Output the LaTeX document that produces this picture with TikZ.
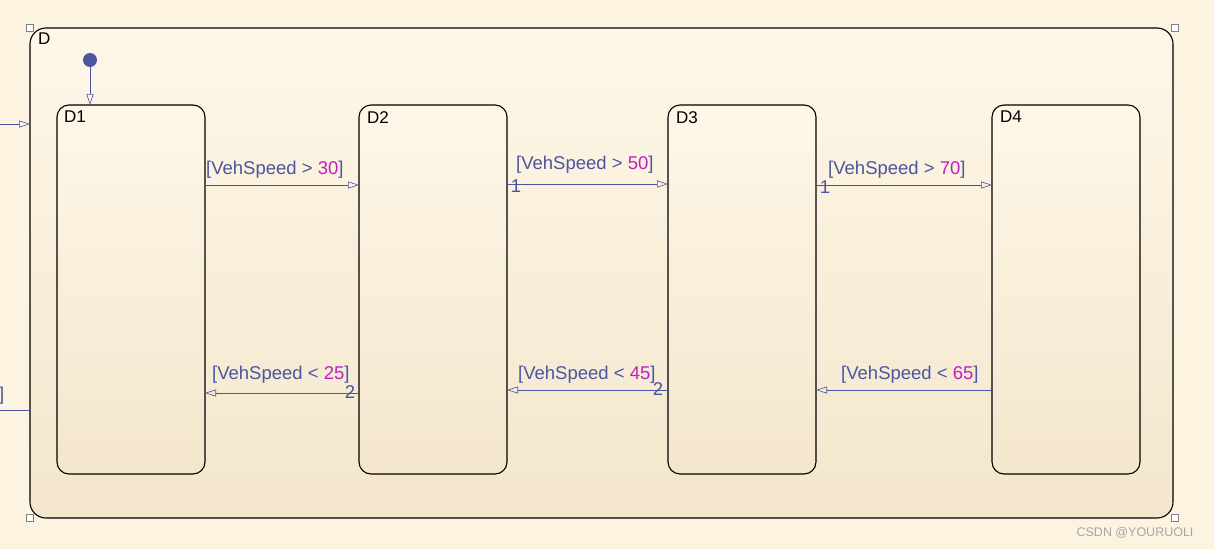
\documentclass[tikz,border=0pt]{standalone}
\usepackage{fontspec}
\setmainfont{Liberation Sans}
\usetikzlibrary{arrows.meta}
\definecolor{bg}{HTML}{FDF3E1}
\definecolor{tc}{HTML}{4B55A0}
\definecolor{num}{HTML}{C020C0}
\definecolor{topc}{HTML}{FEF7E8}
\definecolor{botc}{HTML}{F3E6CC}
\tikzset{
  st/.style={draw=black, line width=1.1pt, rounded corners=12pt, top color=topc, bottom color=botc},
  tr/.style={draw=tc, line width=0.6pt, -{Triangle[open,length=11pt,width=7pt]}},
  lbl/.style={text=tc, font=\fontsize{18.5}{20}\selectfont, inner sep=1pt},
  stl/.style={font=\fontsize{17}{19}\selectfont, anchor=north west, inner sep=0pt},
  hnd/.style={draw=gray, fill=white, minimum size=7pt, inner sep=0pt}
}
\begin{document}
\begin{tikzpicture}[x=1pt,y=-1pt]
\fill[bg] (0,0) rectangle (1214,549);
\useasboundingbox (0,0) rectangle (1214,549);
% outer state D
\path[st, rounded corners=16pt] (30,28) rectangle (1173,518);
\node[stl] (lD) at (38,33) {D};
\foreach \p/\n in {{(30,28)}/h1,{(1175,28)}/h2,{(30,518)}/h3,{(1175,518)}/h4}
  \node[hnd] (\n) at \p {};
% substates
\path[st] (57,105) rectangle (205,474);
\path[st] (359,105) rectangle (507,474);
\path[st] (668,105) rectangle (816,474);
\path[st] (992,105) rectangle (1140,474);
\node[stl] (l1) at (64,111) {D1};
\node[stl] (l2) at (367,111) {D2};
\node[stl] (l3) at (676,111) {D3};
\node[stl] (l4) at (1000,111) {D4};
% initial
\node[circle, fill=tc, minimum size=14pt, inner sep=0pt] (init) at (90,60) {};
\coordinate (d1top) at (90,105);
\draw[tr] (init) -- (d1top);
% forward transitions
\coordinate (a1) at (205,185); \coordinate (a2) at (359,185);
\coordinate (b1) at (507,184); \coordinate (b2) at (668,184);
\coordinate (c1) at (816,185); \coordinate (c2) at (992,185);
\draw[tr] (a1) -- (a2);
\draw[tr] (b1) -- (b2);
\draw[tr] (c1) -- (c2);
\node[lbl, anchor=west] (t1) at (205,170) {[VehSpeed > \textcolor{num}{30}]};
\node[lbl, anchor=west] (t2) at (515,165) {[VehSpeed > \textcolor{num}{50}]};
\node[lbl, anchor=west] (t3) at (827,170) {[VehSpeed > \textcolor{num}{70}]};
\node[lbl] (o1) at (516,186) {1};
\node[lbl] (o2) at (825,187) {1};
% backward transitions
\coordinate (e1) at (359,393); \coordinate (e2) at (205,393);
\coordinate (f1) at (668,390); \coordinate (f2) at (507,390);
\coordinate (g1) at (992,390); \coordinate (g2) at (816,390);
\draw[tr] (e1) -- (e2);
\draw[tr] (f1) -- (f2);
\draw[tr] (g1) -- (g2);
\node[lbl, anchor=west] (t4) at (211,375) {[VehSpeed < \textcolor{num}{25}]};
\node[lbl, anchor=west] (t5) at (517,375) {[VehSpeed < \textcolor{num}{45}]};
\node[lbl, anchor=west] (t6) at (840,375) {[VehSpeed < \textcolor{num}{65}]};
\node[lbl] (o3) at (350,392) {2};
\node[lbl] (o4) at (658,389) {2};
% left edge
\coordinate (lin) at (0,124); \coordinate (lin2) at (30,124);
\draw[tr] (lin) -- (lin2);
\coordinate (lout) at (0,410); \coordinate (lout2) at (30,410);
\draw[tc, line width=0.6pt] (lout) -- (lout2);
\node[lbl, anchor=west, inner sep=0pt] (br) at (-1,396) {]};
\node[text=gray!70, font=\fontsize{12.5}{14}\selectfont, anchor=east] (wm) at (1197,533) {CSDN @YOURUOLI};
\end{tikzpicture}
\end{document}
